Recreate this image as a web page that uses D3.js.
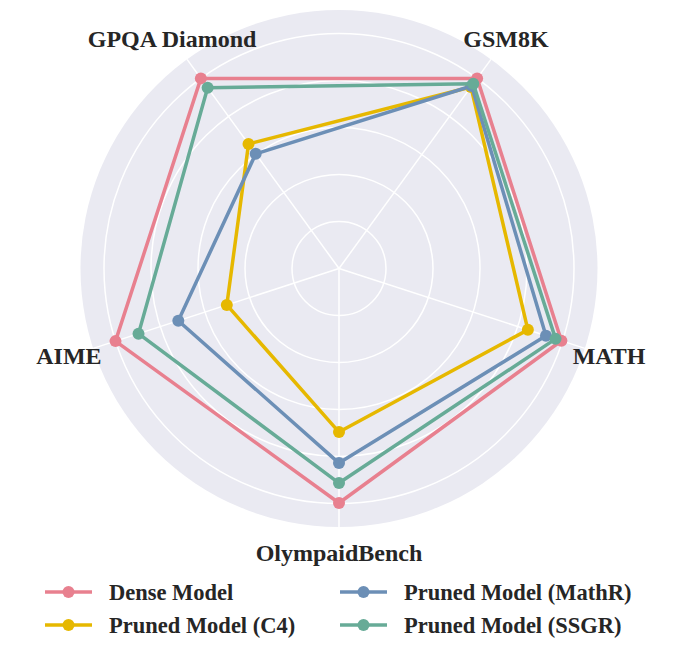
<!DOCTYPE html>
<html><head><meta charset="utf-8">
<script src="https://cdn.jsdelivr.net/npm/d3@7"></script>
<style>body{margin:0;background:#fff}svg{display:block}</style>
</head><body>
<svg id="c" width="681" height="665"></svg>
<script>
const categories = ["GSM8K", "MATH", "OlympaidBench", "AIME", "GPQA Diamond"];
const seriesNames = ["Dense Model", "Pruned Model (C4)", "Pruned Model (MathR)", "Pruned Model (SSGR)"];
const denseValues = [1.0, 0.995, 0.998, 1.0, 1.0];
const c4Values = [0.955, 0.845, 0.696, 0.502, 0.655];
const mathRValues = [0.96, 0.926, 0.828, 0.719, 0.603];
const ssgrValues = [0.972, 0.969, 0.913, 0.897, 0.951];
const gridTicks = [0.2, 0.4, 0.6, 0.8, 1.0];
const colors = ["#e8808f", "#e6b800", "#6c8fb6", "#67ab97"];

const series = [denseValues, c4Values, mathRValues, ssgrValues];
const svg = d3.select("#c");
const cx = 339, cy = 268.5;
const r = d3.scaleLinear().domain([0, 1.1]).range([0, 258.5]);
const angle = d3.scaleLinear().domain([0, categories.length]).range([Math.PI / 5, Math.PI / 5 + 2 * Math.PI]);
const g = svg.append("g").attr("transform", `translate(${cx},${cy})`);

g.append("circle").attr("r", r(1.1)).attr("fill", "#eaeaf2");
g.selectAll(".grid").data(gridTicks).join("circle")
  .attr("r", d => r(d)).attr("fill", "none").attr("stroke", "#fff").attr("stroke-width", 1.5);
g.selectAll(".spoke").data(categories).join("line")
  .attr("x1", 0).attr("y1", 0)
  .attr("x2", (d, i) => r(1.1) * Math.sin(angle(i)))
  .attr("y2", (d, i) => -r(1.1) * Math.cos(angle(i)))
  .attr("stroke", "#fff").attr("stroke-width", 1.5);

const line = d3.lineRadial().angle((d, i) => angle(i)).radius(d => r(d)).curve(d3.curveLinearClosed);
series.forEach((vals, s) => {
  g.append("path").attr("d", line(vals)).attr("fill", "none")
    .attr("stroke", colors[s]).attr("stroke-width", 3.5).attr("stroke-linejoin", "round");
  g.selectAll(null).data(vals).join("circle")
    .attr("cx", (d, i) => r(d) * Math.sin(angle(i)))
    .attr("cy", (d, i) => -r(d) * Math.cos(angle(i)))
    .attr("r", 6).attr("fill", colors[s]);
});

const labelR = 284;
g.selectAll(".lab").data(categories).join("text")
  .attr("x", (d, i) => labelR * Math.sin(angle(i)))
  .attr("y", (d, i) => -labelR * Math.cos(angle(i)))
  .attr("text-anchor", "middle").attr("dominant-baseline", "central")
  .attr("font-family", "Liberation Serif, Times New Roman, serif").attr("font-weight", "bold")
  .attr("font-size", 24).attr("fill", "#262626")
  .text(d => d);

const legend = svg.append("g");
const legPos = [[45, 592], [45, 625], [340, 592], [340, 625]];
seriesNames.forEach((name, s) => {
  const [x, y] = legPos[s];
  const lg = legend.append("g").attr("transform", `translate(${x},${y})`);
  lg.append("line").attr("x1", 0).attr("x2", 47).attr("y1", 0).attr("y2", 0)
    .attr("stroke", colors[s]).attr("stroke-width", 3.5);
  lg.append("circle").attr("cx", 23.5).attr("cy", 0).attr("r", 6).attr("fill", colors[s]);
  lg.append("text").attr("x", 64).attr("y", 0).attr("dominant-baseline", "central")
    .attr("font-family", "Liberation Serif, Times New Roman, serif").attr("font-weight", "bold")
    .attr("font-size", 22.5).attr("fill", "#262626").text(name);
});
</script>
</body></html>
